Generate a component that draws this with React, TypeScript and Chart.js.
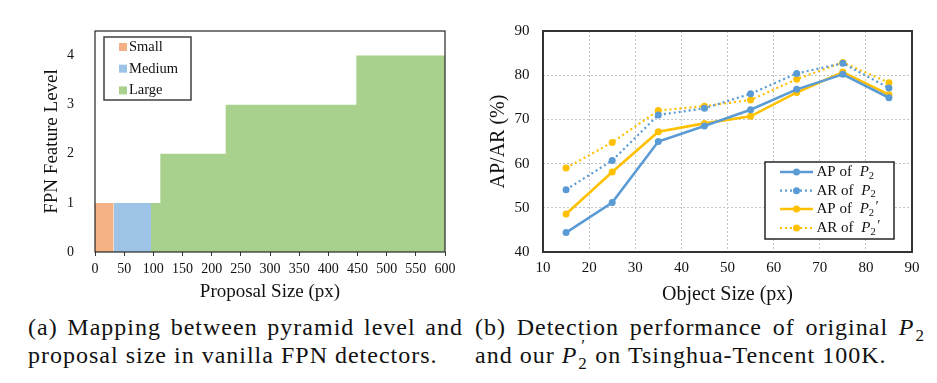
import React, { useEffect, useRef } from 'react';
import { Chart, registerables } from 'chart.js';

Chart.register(...registerables);

// ---------- Data: (a) FPN level mapping ----------
const sizeNames = ['Small', 'Medium', 'Large'];
const sizeColors = ['#F4B183', '#9DC3E6', '#A9D18E'];
const smallX = [0, 32];
const smallLevel = [1, 1];
const mediumX = [32, 96];
const mediumLevel = [1, 1];
const largeX = [96, 112, 224, 448, 600];
const largeLevel = [1, 2, 3, 4, 4];
const levelTicks = [0, 1, 2, 3, 4];
const proposalTicks = [0, 50, 100, 150, 200, 250, 300, 350, 400, 450, 500, 550, 600];

// ---------- Data: (b) AP / AR vs object size ----------
const objectSizes = [15, 25, 35, 45, 55, 65, 75, 85];
const apP2 = [44.4, 51.2, 65.0, 68.5, 72.2, 76.8, 80.2, 74.9];
const arP2 = [54.1, 60.7, 71.0, 72.5, 75.8, 80.4, 82.7, 77.1];
const apP2p = [48.6, 58.1, 67.2, 69.1, 70.7, 76.1, 80.7, 75.6];
const arP2p = [59.0, 64.8, 72.0, 73.0, 74.4, 79.1, 82.9, 78.3];
const seriesPrefix = ['AP of', 'AR of', 'AP of', 'AR of'];
const seriesPrime = [false, false, true, true];
const sizeTicks = [10, 20, 30, 40, 50, 60, 70, 80, 90];
const apTicks = [40, 50, 60, 70, 80, 90];

const BLUE = '#5B9BD5';
const GOLD = '#FFC000';
const SERIF = '"Liberation Serif", serif';
const TXT = '#111111';

const toPts = (xs: number[], ys: number[]) => xs.map((x, i) => ({ x, y: ys[i] }));

const framePlugin = (color: string, width: number) => ({
  id: 'frame',
  afterDatasetsDraw(chart: any) {
    const { ctx, chartArea: a } = chart;
    ctx.save();
    ctx.strokeStyle = color;
    ctx.lineWidth = width;
    ctx.strokeRect(a.left, a.top, a.right - a.left, a.bottom - a.top);
    ctx.restore();
  },
});

const leftLegendPlugin = {
  id: 'leftLegend',
  afterDraw(chart: any) {
    const { ctx, chartArea: a } = chart;
    const bx = a.left + 9, by = a.top + 6, bw = 87, bh = 63;
    ctx.save();
    ctx.fillStyle = '#ffffff';
    ctx.fillRect(bx, by, bw, bh);
    ctx.strokeStyle = '#404040';
    ctx.lineWidth = 1.5;
    ctx.strokeRect(bx, by, bw, bh);
    ctx.font = `14.5px ${SERIF}`;
    ctx.textBaseline = 'middle';
    sizeNames.forEach((name, i) => {
      const cy = by + 10 + i * 21.7;
      ctx.fillStyle = sizeColors[i];
      ctx.fillRect(bx + 15, cy - 4, 8, 8);
      ctx.fillStyle = TXT;
      ctx.fillText(name, bx + 25, cy);
    });
    ctx.restore();
  },
};

function drawPLabel(ctx: CanvasRenderingContext2D, x: number, y: number, prefix: string, prime: boolean) {
  ctx.fillStyle = TXT;
  ctx.font = `15px ${SERIF}`;
  ctx.fillText(prefix, x, y);
  x += ctx.measureText(prefix + ' ').width + 4;
  ctx.font = `italic 15px ${SERIF}`;
  ctx.fillText('P', x, y);
  x += ctx.measureText('P').width;
  ctx.font = `10.5px ${SERIF}`;
  ctx.fillText('2', x, y + 4);
  if (prime) {
    ctx.font = `italic 14px ${SERIF}`;
    ctx.fillText('\u2032', x + 6, y - 2);
  }
}

const rightLegendPlugin = {
  id: 'rightLegend',
  afterDraw(chart: any) {
    const { ctx, chartArea: a } = chart;
    const bx = a.left + 222, by = a.top + 131, bw = 129, bh = 77;
    ctx.save();
    ctx.fillStyle = '#ffffff';
    ctx.fillRect(bx, by, bw, bh);
    ctx.strokeStyle = '#262626';
    ctx.lineWidth = 1.5;
    ctx.strokeRect(bx, by, bw, bh);
    ctx.textBaseline = 'middle';
    const rows = [10, 28.7, 47, 66];
    chart.data.datasets.forEach((ds: any, i: number) => {
      const cy = by + rows[i];
      ctx.save();
      ctx.strokeStyle = ds.borderColor;
      ctx.lineWidth = ds.borderWidth;
      ctx.setLineDash(ds.borderDash || []);
      ctx.beginPath();
      ctx.moveTo(bx + 15, cy);
      ctx.lineTo(bx + 48, cy);
      ctx.stroke();
      ctx.restore();
      ctx.fillStyle = ds.borderColor;
      ctx.beginPath();
      ctx.arc(bx + 31.5, cy, 3.5, 0, Math.PI * 2);
      ctx.fill();
      drawPLabel(ctx, bx + 51.5, cy, seriesPrefix[i], seriesPrime[i]);
    });
    ctx.restore();
  },
};

function LevelChart() {
  const ref = useRef<HTMLCanvasElement>(null);
  useEffect(() => {
    const area = (xs: number[], ys: number[], color: string, label: string) => ({
      label,
      data: toPts(xs, ys),
      stepped: 'before' as const,
      fill: 'origin',
      backgroundColor: color,
      borderColor: 'rgba(0,0,0,0)',
      borderWidth: 1,
      pointRadius: 0,
    });
    const chart = new Chart(ref.current as HTMLCanvasElement, {
      type: 'line',
      data: {
        datasets: [
          area(smallX, smallLevel, sizeColors[0], sizeNames[0]),
          area(mediumX, mediumLevel, sizeColors[1], sizeNames[1]),
          area(largeX, largeLevel, sizeColors[2], sizeNames[2]),
        ],
      },
      options: {
        animation: false,
        responsive: false,
        layout: { padding: { left: 0, top: 31, right: 25, bottom: 0 } },
        plugins: { legend: { display: false }, tooltip: { enabled: false } },
        scales: {
          x: {
            type: 'linear',
            min: 0,
            max: 600,
            afterBuildTicks: (s: any) => { s.ticks = proposalTicks.map((v) => ({ value: v })); },
            afterFit: (s: any) => { s.height = 58; },
            grid: { display: true, drawOnChartArea: false, drawTicks: true, tickLength: 4, color: '#333333' },
            border: { display: false },
            ticks: { color: TXT, font: { family: SERIF, size: 14 }, padding: 5, maxRotation: 0, autoSkip: false },
            title: { display: true, text: 'Proposal Size (px)', color: TXT, font: { family: SERIF, size: 19 }, padding: { top: 0, bottom: 7 } },
          },
          y: {
            type: 'linear',
            min: 0,
            max: 4.5,
            afterBuildTicks: (s: any) => { s.ticks = levelTicks.map((v) => ({ value: v })); },
            afterFit: (s: any) => { s.width = 95; },
            grid: { display: false },
            border: { display: false },
            ticks: { color: TXT, font: { family: SERIF, size: 14 }, padding: 13 },
            title: { display: true, text: 'FPN Feature Level', color: TXT, font: { family: SERIF, size: 19 }, padding: 40.3 },
          },
        },
      },
      plugins: [framePlugin('#262626', 1.2), leftLegendPlugin],
    } as any);
    return () => chart.destroy();
  }, []);
  return <canvas ref={ref} width={470} height={310} style={{ position: 'absolute', left: 0, top: 0, width: 470, height: 310 }} />;
}

function PerfChart() {
  const ref = useRef<HTMLCanvasElement>(null);
  useEffect(() => {
    const line = (ys: number[], color: string, dotted: boolean, label: string) => ({
      label,
      data: toPts(objectSizes, ys),
      borderColor: color,
      backgroundColor: color,
      borderWidth: dotted ? 2.2 : 2.6,
      borderDash: dotted ? [2, 3] : [],
      borderCapStyle: 'butt',
      pointRadius: 3.5,
      pointBorderWidth: 0,
      pointBackgroundColor: color,
      tension: 0,
      fill: false,
    });
    const chart = new Chart(ref.current as HTMLCanvasElement, {
      type: 'line',
      data: {
        datasets: [
          line(apP2, BLUE, false, 'AP of P2'),
          line(arP2, BLUE, true, 'AR of P2'),
          line(apP2p, GOLD, false, "AP of P2'"),
          line(arP2p, GOLD, true, "AR of P2'"),
        ],
      },
      options: {
        animation: false,
        responsive: false,
        layout: { padding: { left: 0, top: 31, right: 25, bottom: 0 } },
        plugins: { legend: { display: false }, tooltip: { enabled: false } },
        scales: {
          x: {
            type: 'linear',
            min: 10,
            max: 90,
            afterBuildTicks: (s: any) => { s.ticks = sizeTicks.map((v) => ({ value: v })); },
            afterFit: (s: any) => { s.height = 58; },
            grid: { display: true, drawTicks: false, color: '#c4c4c4', lineWidth: 1 },
            border: { display: false, dash: [2, 2] },
            ticks: { color: TXT, font: { family: SERIF, size: 15 }, padding: 7.5, maxRotation: 0, autoSkip: false },
            title: { display: true, text: 'Object Size (px)', color: TXT, font: { family: SERIF, size: 20 }, padding: { top: 0, bottom: 3 } },
          },
          y: {
            type: 'linear',
            min: 40,
            max: 90,
            afterBuildTicks: (s: any) => { s.ticks = apTicks.map((v) => ({ value: v })); },
            afterFit: (s: any) => { s.width = 73; },
            grid: { display: true, drawTicks: false, color: '#c4c4c4', lineWidth: 1 },
            border: { display: false, dash: [2, 2] },
            ticks: { color: TXT, font: { family: SERIF, size: 15 }, padding: 13.5 },
            title: { display: true, text: 'AP/AR (%)', color: TXT, font: { family: SERIF, size: 20 }, padding: 17 },
          },
        },
      },
      plugins: [framePlugin('#333333', 2), rightLegendPlugin],
    } as any);
    return () => chart.destroy();
  }, []);
  return <canvas ref={ref} width={467} height={310} style={{ position: 'absolute', left: 470, top: 0, width: 467, height: 310 }} />;
}

const capBase: React.CSSProperties = {
  position: 'absolute',
  fontFamily: SERIF,
  fontSize: 24,
  lineHeight: '28px',
  letterSpacing: '1px',
  color: TXT,
  whiteSpace: 'nowrap',
};

function P2() {
  return (
    <span>
      <i>P</i>
      <span style={{ fontSize: 17, position: 'relative', top: 6, marginLeft: 1 }}>2</span>
    </span>
  );
}

function P2Prime() {
  return (
    <span>
      <i>P</i>
      <span style={{ position: 'relative', display: 'inline-block', width: 11 }}>
        <span style={{ position: 'absolute', left: 3, top: -9, fontSize: 17, fontStyle: 'italic' }}>{'\u2032'}</span>
        <span style={{ fontSize: 17, position: 'relative', top: 6, marginLeft: 1 }}>2</span>
      </span>
    </span>
  );
}

export default function App() {
  return (
    <div style={{ position: 'absolute', left: 0, top: 0, width: 937, height: 383, background: '#ffffff', overflow: 'hidden' }}>
      <LevelChart />
      <PerfChart />
      <div style={{ ...capBase, left: 28, top: 313, width: 435, textAlign: 'justify', textAlignLast: 'justify' }}>
        (a) Mapping between pyramid level and
      </div>
      <div style={{ ...capBase, left: 28, top: 341 }}>proposal size in vanilla FPN detectors.</div>
      <div style={{ ...capBase, left: 475, top: 313, width: 450, textAlign: 'justify', textAlignLast: 'justify' }}>
        (b) Detection performance of original <P2 />
      </div>
      <div style={{ ...capBase, left: 475, top: 341 }}>
        and our <P2Prime /> on Tsinghua-Tencent 100K.
      </div>
    </div>
  );
}
